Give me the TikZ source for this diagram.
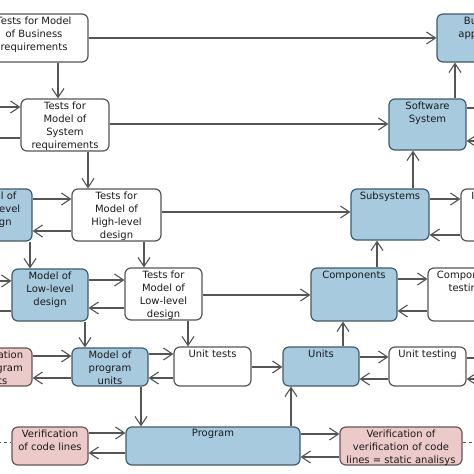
\documentclass[tikz,border=0pt]{standalone}
\usepackage{fontspec}
\setmainfont{DejaVu Sans}
\usetikzlibrary{arrows.meta}
\definecolor{bfill}{HTML}{A7CADF}
\definecolor{bdraw}{HTML}{405B6B}
\definecolor{pfill}{HTML}{ECCACA}
\definecolor{pdraw}{HTML}{6A5555}
\definecolor{lc}{HTML}{555555}
\definecolor{tc}{HTML}{1A1A1A}
\tikzset{
 base/.style={rectangle, rounded corners=6pt, line width=1.2pt, inner sep=0pt},
 bluebox/.style={base, fill=bfill, draw=bdraw},
 whitebox/.style={base, fill=white, draw=lc},
 pinkbox/.style={base, fill=pfill, draw=pdraw},
 lbl/.style={anchor=north, align=center, inner sep=0pt, yshift=-3pt, font=\fontsize{10}{13}\selectfont, text=tc},
 arr/.style={draw=lc, line width=1.1pt, -{Straight Barb[length=9pt,width=12pt]}},
 dsh/.style={draw=lc, line width=1pt, dash pattern=on 3pt off 3pt},
}
\newcommand\mkbox[7]{\node[#1, minimum width={(#5)-(#3)}, minimum height={(#6)-(#4)}, label={[lbl]north:{#7}}] (#2) at ({((#3)+(#5))/2},{((#4)+(#6))/2}) {};}
\begin{document}
\begin{tikzpicture}[x=1pt,y=-1pt]
\useasboundingbox (0,0) rectangle (474,474);
\fill[white] (0,0) rectangle (474,474);
\clip (0,0) rectangle (474,474);
% boxes
\mkbox{whitebox}{bus}{-20}{14}{88}{62}{Tests for Model\\of Business\\requirements}
\mkbox{whitebox}{sys}{21}{99}{109}{151}{Tests for\\Model of\\System\\requirements}
\mkbox{bluebox}{ba}{437}{14}{535}{62}{Business\\application}
\mkbox{bluebox}{sws}{389}{99}{466}{150}{Software\\System}
\mkbox{bluebox}{mhl}{-42}{189}{32}{241}{Model of\\High-level\\design}
\mkbox{whitebox}{thl}{72}{189}{161}{241}{Tests for\\Model of\\High-level\\design}
\mkbox{bluebox}{sub}{351}{189}{429}{240}{Subsystems}
\mkbox{whitebox}{itg}{461}{189}{537}{241}{Integration\\testing}
\mkbox{bluebox}{mll}{12}{269}{88}{321}{Model of\\Low-level\\design}
\mkbox{whitebox}{tll}{125}{268}{202}{320}{Tests for\\Model of\\Low-level\\design}
\mkbox{bluebox}{cmp}{311}{268}{397}{321}{Components}
\mkbox{whitebox}{cpt}{428}{268}{504}{321}{Component\\testing}
\mkbox{pinkbox}{vpu}{-42}{348}{32}{386}{Verification\\of program\\units}
\mkbox{bluebox}{mpu}{72}{348}{148}{386}{Model of\\program\\units}
\mkbox{whitebox}{ut}{174}{347}{251}{386}{Unit tests}
\mkbox{bluebox}{un}{283}{347}{359}{386}{Units}
\mkbox{whitebox}{uts}{389}{347}{466}{386}{Unit testing}
\mkbox{bluebox}{prg}{126}{427}{300}{465}{Program}
\mkbox{pinkbox}{vcl}{12}{427}{88}{465}{Verification\\of code lines}
\mkbox{pinkbox}{vvc}{340}{427}{462}{465}{Verification of\\verification of code\\lines = static analisys}
% free ends (nodes outside the view)
\coordinate (msrA) at (-50,107);
\coordinate (msrB) at (-50,138);
\coordinate (vllA) at (-50,281);
\coordinate (vllB) at (-50,311);
\coordinate (dL) at (-50,442);
\coordinate (stA) at (540,108);
\coordinate (stB) at (540,141);
\coordinate (rtA) at (540,358);
\coordinate (rtB) at (540,379);
\coordinate (dR) at (540,442);
% horizontal connectors
\draw[arr] (bus.east |- 0,38) -- (ba.west |- 0,38);
\draw[arr] (msrA) -- (sys.west |- msrA);
\draw[arr] (sys.west |- msrB) -- (msrB);
\draw[arr] (sys.east |- 0,124) -- (sws.west |- 0,124);
\draw[arr] (sws.east |- stA) -- (stA);
\draw[arr] (stB) -- (sws.east |- stB);
\draw[arr] (mhl.east |- 0,199) -- (thl.west |- 0,199);
\draw[arr] (thl.west |- 0,231) -- (mhl.east |- 0,231);
\draw[arr] (thl.east |- 0,212) -- (sub.west |- 0,212);
\draw[arr] (sub.east |- 0,199) -- (itg.west |- 0,199);
\draw[arr] (itg.west |- 0,235) -- (sub.east |- 0,235);
\draw[arr] (vllA) -- (mll.west |- vllA);
\draw[arr] (mll.west |- vllB) -- (vllB);
\draw[arr] (mll.east |- 0,280) -- (tll.west |- 0,280);
\draw[arr] (tll.west |- 0,308) -- (mll.east |- 0,308);
\draw[arr] (tll.east |- 0,295) -- (cmp.west |- 0,295);
\draw[arr] (cmp.east |- 0,279) -- (cpt.west |- 0,279);
\draw[arr] (cpt.west |- 0,311) -- (cmp.east |- 0,311);
\draw[arr] (vpu.east |- 0,356) -- (mpu.west |- 0,356);
\draw[arr] (mpu.west |- 0,378) -- (vpu.east |- 0,378);
\draw[arr] (mpu.east |- 0,354) -- (ut.west |- 0,354);
\draw[arr] (ut.west |- 0,378) -- (mpu.east |- 0,378);
\draw[arr] (ut.east |- 0,367) -- (un.west |- 0,367);
\draw[arr] (un.east |- 0,357) -- (uts.west |- 0,357);
\draw[arr] (uts.west |- 0,379) -- (un.east |- 0,379);
\draw[arr] (uts.east |- rtA) -- (rtA);
\draw[arr] (rtB) -- (uts.east |- rtB);
\draw[arr] (vcl.east |- 0,433) -- (prg.west |- 0,433);
\draw[arr] (prg.west |- 0,453) -- (vcl.east |- 0,453);
\draw[arr] (prg.east |- 0,434) -- (vvc.west |- 0,434);
\draw[arr] (vvc.west |- 0,457) -- (prg.east |- 0,457);
\draw[dsh] (dL) -- (vcl.west |- dL);
\draw[dsh] (vvc.east |- dR) -- (dR);
% vertical connectors
\draw[arr] (bus.south -| 58,0) -- (sys.north -| 58,0);
\draw[arr] (sys.south -| 88,0) -- (thl.north -| 88,0);
\draw[arr] (mhl.south -| 30,0) -- (mll.north -| 30,0);
\draw[arr] (thl.south -| 144,0) -- (tll.north -| 144,0);
\draw[arr] (mll.south -| 85,0) -- (mpu.north -| 85,0);
\draw[arr] (tll.south -| 188,0) -- (ut.north -| 188,0);
\draw[arr] (mpu.south -| 141,0) -- (prg.north -| 141,0);
\draw[arr] (prg.north -| 291,0) -- (un.south -| 291,0);
\draw[arr] (un.north -| 343,0) -- (cmp.south -| 343,0);
\draw[arr] (cmp.north -| 377,0) -- (sub.south -| 377,0);
\draw[arr] (sub.north -| 413,0) -- (sws.south -| 413,0);
\draw[arr] (sws.north -| 455,0) -- (ba.south -| 455,0);
\end{tikzpicture}
\end{document}
